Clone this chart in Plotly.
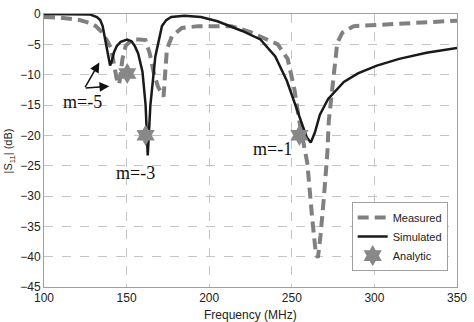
import plotly.graph_objects as go

# Simulated |S11| (solid black)
sim_freq = [100, 110, 120, 128, 132, 134, 135.5, 137.5, 139, 140, 141, 142.4, 144, 146.4, 150.3,
            153, 155, 157, 159.6, 161.5, 162.8, 164.4, 167.4, 171.4, 174, 177, 185, 195, 205,
            212, 220, 231, 240, 247, 252, 256, 259, 261.5, 264, 267, 272, 281.5, 290, 301.5,
            315, 331.5, 350]
sim_db = [0, 0, 0, -0.1, -0.5, -1.0, -2.0, -5.0, -7.5, -8.5, -7.8, -6.3, -5.3, -4.6, -4.2,
          -4.5, -5.3, -6.5, -9.5, -15.0, -23.3, -15.0, -7.0, -2.0, -1.0, -0.5, -0.3, -0.5, -1.2,
          -2.0, -2.8, -4.2, -7.0, -11.0, -15.0, -18.0, -20.3, -21.2, -19.5, -16.6, -14.0, -11.2,
          -9.8, -8.5, -7.4, -6.4, -5.6]

# Measured |S11| (dashed gray)
meas_freq = [100, 110, 121.5, 128, 131.4, 135, 138, 140.4, 142.5, 144.5, 145.5, 147.5, 149.5,
             153.5, 158, 161.4, 164, 166.4, 169, 171.4, 172.4, 173.4, 174.4, 177.4, 183.4,
             193.4, 213.4, 225, 237.5, 241.5, 247.5, 251.5, 254.5, 257.5, 259.4, 262.4, 264.4,
             265.8, 267.4, 269.5, 271.5, 272.4, 275.5, 277.5, 280.5, 287.5, 301.5, 331.5, 350]
meas_db = [-0.5, -0.6, -1.0, -1.5, -2.0, -3.0, -4.3, -5.5, -8.5, -11.4, -11.6, -7.4, -5.2,
           -4.2, -4.2, -4.3, -6.5, -9.6, -12.0, -13.4, -13.6, -9.6, -5.8, -3.7, -2.3,
           -2.0, -2.0, -3.0, -4.6, -5.0, -7.4, -12.3, -17.6, -21.9, -24.6, -33.8, -39.1,
           -40.2, -36.5, -30.0, -23.0, -17.6, -9.6, -4.8, -3.1, -2.0, -1.8, -1.4, -1.1]

# Analytic resonances (stars)
ana_freq = [150.4, 161.5, 254.6]
ana_db = [-9.8, -20.0, -20.0]

# Mode labels
mode_text = ["m=-5", "m=-3", "m=-1"]
mode_x = [123.3, 155.6, 238.2]
mode_y = [-14.5, -26.2, -22.3]

x_ticks = [100, 150, 200, 250, 300, 350]
y_ticks = [0, -5, -10, -15, -20, -25, -30, -35, -40, -45]

fig = go.Figure()
fig.add_trace(go.Scatter(x=meas_freq, y=meas_db, mode="lines", name="Measured",
                         line=dict(color="#808080", width=4, dash="11px,6px")))
fig.add_trace(go.Scatter(x=sim_freq, y=sim_db, mode="lines", name="Simulated",
                         line=dict(color="#1a1a1a", width=2.5)))
fig.add_trace(go.Scatter(x=ana_freq, y=ana_db, mode="markers", name="Analytic",
                         marker=dict(symbol="hexagram", size=16, color="#888888")))

serif = "Liberation Serif, Times New Roman, serif"
for t, x, y in zip(mode_text, mode_x, mode_y):
    fig.add_annotation(x=x, y=y, text=t, showarrow=False,
                       font=dict(family=serif, size=18, color="#111111"))

# arrows for m=-5
fig.add_annotation(x=133.5, y=-8.0, ax=-15, ay=26, text="", showarrow=True,
                   arrowhead=2, arrowsize=1.3, arrowwidth=1.5, arrowcolor="#111111")
fig.add_annotation(x=139.5, y=-11.9, ax=-25, ay=2, text="", showarrow=True,
                   arrowhead=2, arrowsize=1.3, arrowwidth=1.5, arrowcolor="#111111")

# axis titles
fig.add_annotation(xref="paper", yref="paper", x=0.5, y=-0.102, text="Frequency (MHz)",
                   showarrow=False, yanchor="middle",
                   font=dict(family="Liberation Sans, Arial", size=12, color="#222222"))
fig.add_annotation(xref="paper", yref="paper", x=-0.085, y=0.5, text="|S<sub>11</sub>| (dB)",
                   showarrow=False, textangle=-90, xanchor="center",
                   font=dict(family="Liberation Sans, Arial", size=11, color="#222222"))

axis_common = dict(showgrid=True, gridcolor="#c4c4c4", griddash="dash", gridwidth=1,
                   showline=True, linecolor="#a0a0a0", linewidth=1, mirror=True,
                   zeroline=False, ticks="",
                   tickfont=dict(family="Liberation Sans, Arial", size=12, color="#222222"))

fig.update_xaxes(range=[100, 350], tickvals=x_ticks, **axis_common)
fig.update_yaxes(range=[-45, 0], tickvals=y_ticks, **axis_common)

fig.update_layout(
    width=474, height=322,
    margin=dict(l=44, r=12, t=7, b=35),
    plot_bgcolor="white", paper_bgcolor="white",
    showlegend=True,
    legend=dict(x=0.745, y=0.311, xanchor="left", yanchor="top",
                bgcolor="white", bordercolor="#a0a0a0", borderwidth=1,
                font=dict(family="Liberation Sans, Arial", size=11, color="#222222"),
                tracegroupgap=0, itemwidth=30),
)

fig.write_html("out.html")
